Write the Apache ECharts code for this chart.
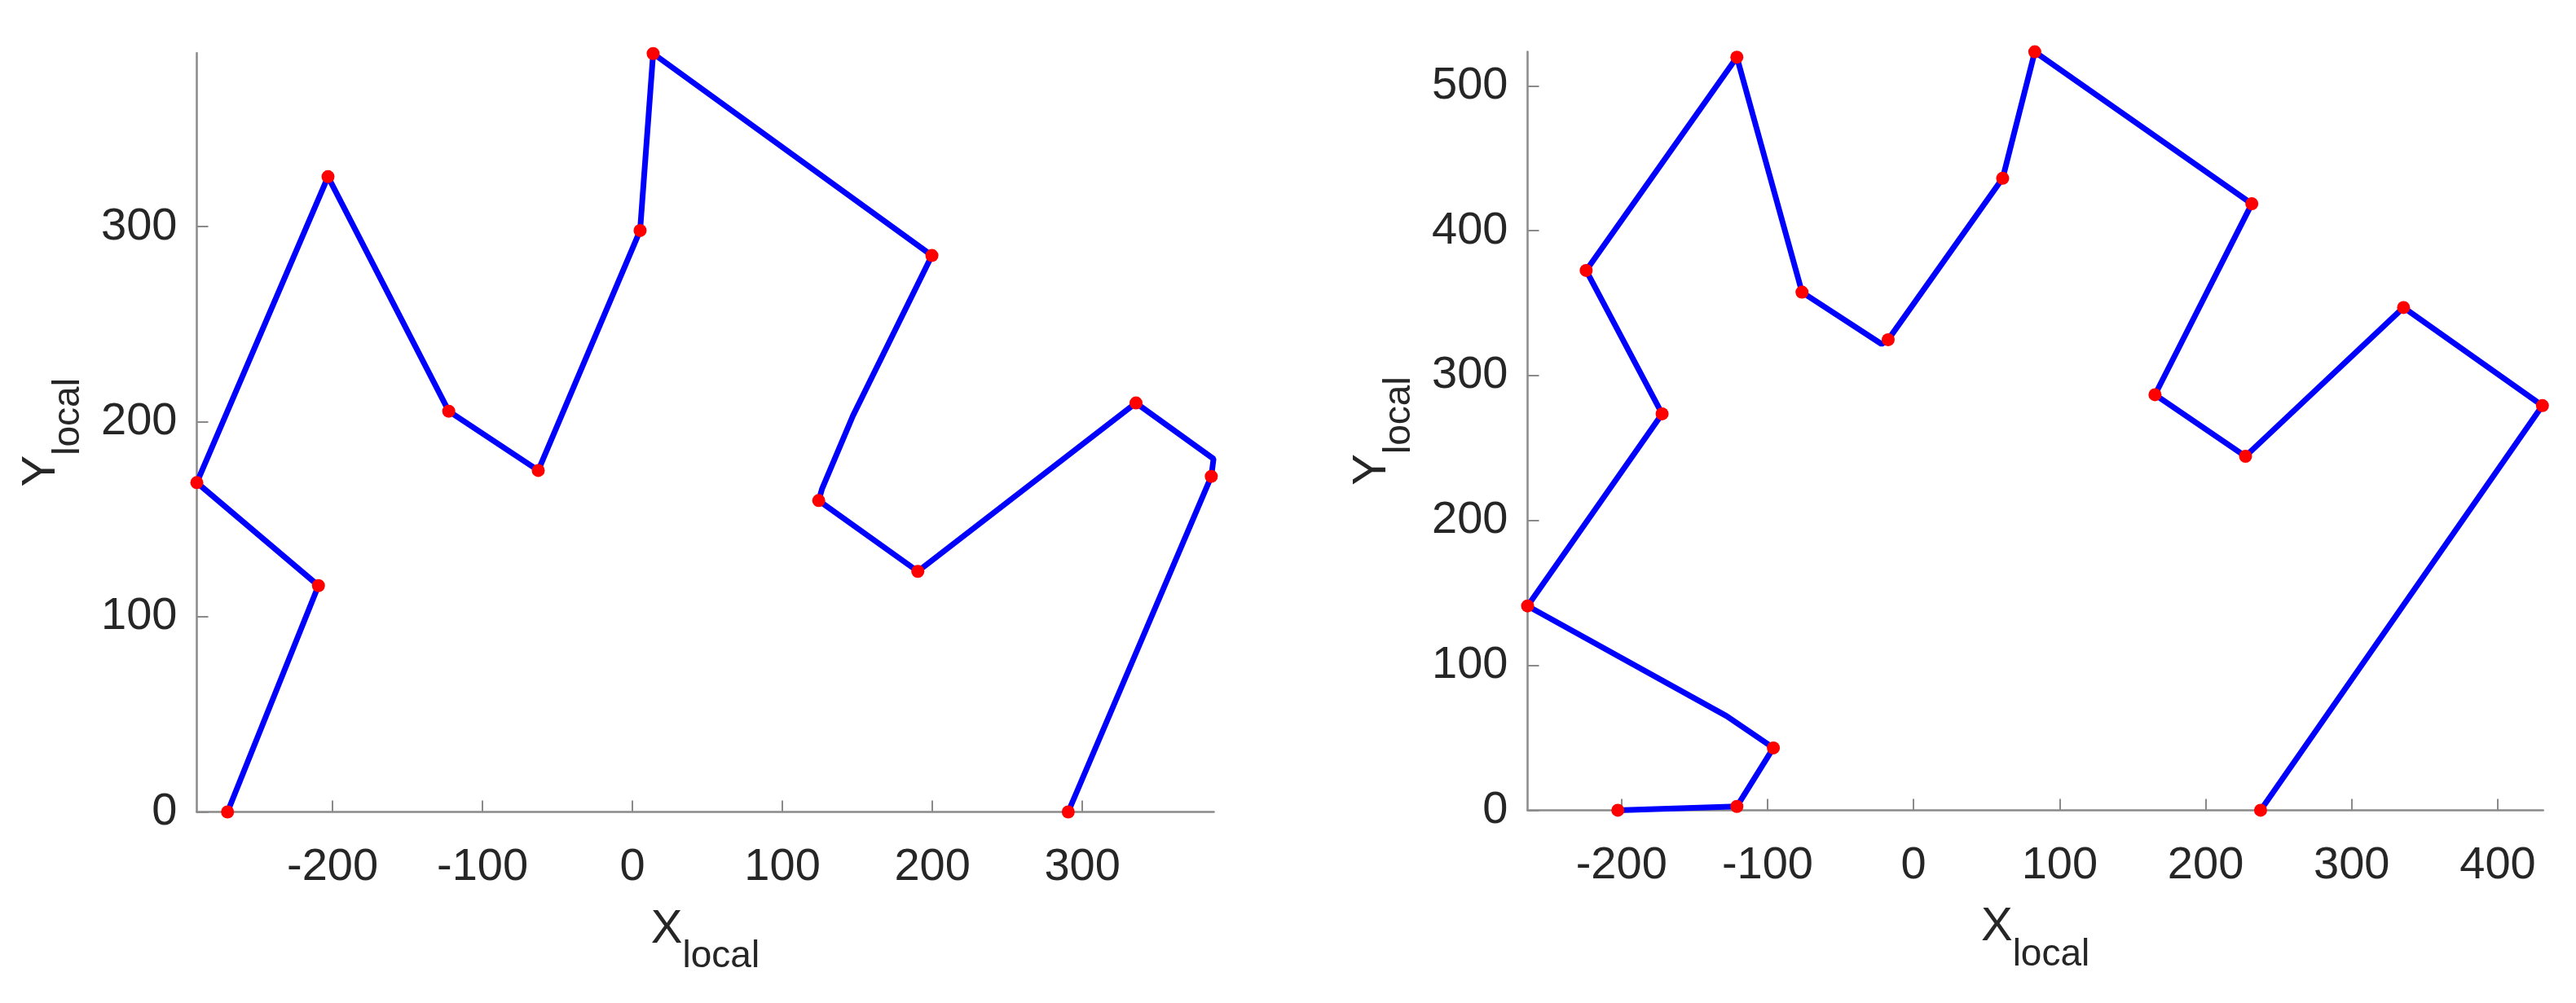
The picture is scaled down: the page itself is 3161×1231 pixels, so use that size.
<!DOCTYPE html>
<html>
<head>
  <meta charset="utf-8">
  <title>Xlocal / Ylocal</title>
  <script src="https://cdn.jsdelivr.net/npm/echarts@6.0.0/dist/echarts.min.js"></script>
  <style>
    html, body { margin: 0; padding: 0; background: #fff; }
    #main { width: 3161px; height: 1231px; }
  </style>
</head>
<body>
<div id="main"></div>
<script>
  // left shape: path vertices, 1 = drawn with a red dot
  var leftX    = [-270, -209.4, -290.5, -203, -122.5, -62.8, 5.1, 13.8, 199.7, 147, 126.4, 124.2, 190.3, 335.8, 387.5, 386, 290.6];
  var leftY    = [0, 116, 168.8, 325.6, 205.4, 175, 298, 388.7, 285.2, 203, 165.5, 159.6, 123.3, 209.6, 181, 172, 0];
  var leftMark = [1, 1, 1, 1, 1, 1, 1, 1, 1, 0, 0, 1, 1, 1, 0, 1, 1];

  // right shape
  var rightX    = [-202.5, -121, -96, -128, -264.3, -172.2, -224.2, -121, -76.4, -21.9, -17.4, 61, 83, 231.6, 165.3, 227.3, 335.5, 430.6, 237.6];
  var rightY    = [0, 2.6, 43, 65, 141, 273.6, 372.6, 519.8, 357.6, 321.8, 324.8, 436.2, 523.5, 418.6, 286.8, 244.3, 347, 279.3, 0];
  var rightMark = [1, 1, 1, 0, 1, 1, 1, 1, 1, 0, 1, 1, 1, 1, 1, 1, 1, 1, 1];

  // tick labels
  var leftXTicks  = [-200, -100, 0, 100, 200, 300];
  var leftYTicks  = [0, 100, 200, 300];
  var rightXTicks = [-200, -100, 0, 100, 200, 300, 400];
  var rightYTicks = [0, 100, 200, 300, 400, 500];

  var FONT = 'Liberation Sans';
  var axisColor = '#8a8a8a';
  var textColor = '#262626';

  function pathData(xs, ys, marks) {
    return xs.map(function (x, i) {
      return {
        value: [x, ys[i]],
        symbol: marks[i] ? 'circle' : 'none'
      };
    });
  }

  // "local" is pushed down as a subscript by the top padding of its token
  var nameRich = {
    m: { fontFamily: FONT, fontSize: 58, color: textColor, verticalAlign: 'top' },
    s: { fontFamily: FONT, fontSize: 46, color: textColor, verticalAlign: 'bottom', padding: [40, 0, 0, 0] }
  };

  function valueAxis(gridIndex, min, max, ticks, isY) {
    return {
      type: 'value',
      gridIndex: gridIndex,
      min: min,
      max: max,
      name: isY ? '{m|Y}{s|local}' : '{m|X}{s|local}',
      nameLocation: 'middle',
      nameGap: isY ? 134 : 115,
      nameTextStyle: { rich: nameRich },
      splitLine: { show: false },
      axisLine: { show: true, onZero: false, lineStyle: { color: axisColor, width: 2.5 } },
      axisTick: { show: true, inside: true, length: 14, customValues: ticks, lineStyle: { color: axisColor, width: 2 } },
      axisLabel: {
        customValues: ticks,
        margin: isY ? 24 : 40,
        fontFamily: FONT,
        fontSize: 56,
        color: textColor
      }
    };
  }

  function shapeSeries(idx, xs, ys, marks) {
    return {
      type: 'line',
      xAxisIndex: idx,
      yAxisIndex: idx,
      data: pathData(xs, ys, marks),
      showSymbol: true,
      symbolSize: 16,
      clip: false,
      animation: false,
      lineStyle: { color: '#0000ff', width: 7 },
      itemStyle: { color: '#ff0000', borderWidth: 0 }
    };
  }

  var myChart = echarts.init(document.getElementById('main'));
  myChart.setOption({
    backgroundColor: '#ffffff',
    animation: false,
    grid: [
      { left: 241.5, top: 65, width: 1248, height: 931.5 },
      { left: 1874.5, top: 63.6, width: 1246.2, height: 930.8 }
    ],
    xAxis: [
      valueAxis(0, -290.5, 387.7, leftXTicks, false),
      valueAxis(1, -264.3, 431.1, rightXTicks, false)
    ],
    yAxis: [
      valueAxis(0, 0, 389, leftYTicks, true),
      valueAxis(1, 0, 523.5, rightYTicks, true)
    ],
    series: [
      shapeSeries(0, leftX, leftY, leftMark),
      shapeSeries(1, rightX, rightY, rightMark)
    ]
  });
</script>
</body>
</html>
